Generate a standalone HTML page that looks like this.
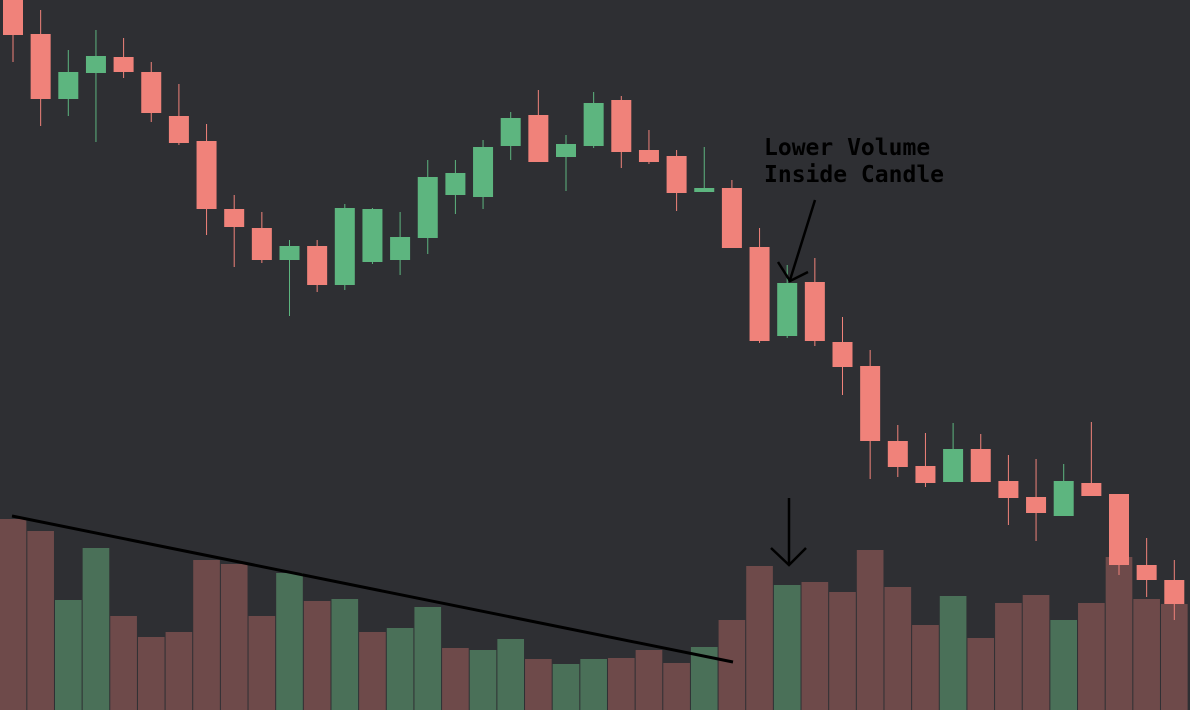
<!DOCTYPE html>
<html><head><meta charset="utf-8"><style>
html,body{margin:0;padding:0;background:#2e2f33;}
svg{display:block;}
</style></head><body>
<svg id="chart" width="1190" height="710" viewBox="0 0 1190 710" xmlns="http://www.w3.org/2000/svg">
<rect x="0" y="0" width="1190" height="710" fill="#2e2f33"/>
<g id="vol"></g>
<g id="candles"></g>
<line x1="12" y1="516" x2="733" y2="662" stroke="#000" stroke-width="3"/>
<text font-family="'DejaVu Sans Mono','Liberation Mono',monospace" font-size="23" font-weight="bold" fill="#000"><tspan x="764" y="155">Lower Volume</tspan><tspan x="764" y="182">Inside Candle</tspan></text>
<g stroke="#000" stroke-width="2.5" fill="none">
<line x1="815" y1="200" x2="790" y2="280"/><polyline points="778,262 790,281 808,272"/>
</g>
<g stroke="#000" stroke-width="2.5" fill="none">
<line x1="789" y1="498" x2="789" y2="565"/><polyline points="771,548 789,565 806,548"/>
</g>
</svg>
<script>
// price values (axis units: value = 710 - pixel y)
const opens  = [710,676,611,637,653,638,594,569,501,482,450,464,425,448,450,472,515,513,564,595,553,564,610,560,554,518,522,463,374,428,368,344,269,244,228,261,229,213,194,227,216,145,130];
const closes = [675,611,638,654,638,597,567,501,483,450,464,425,502,501,473,533,537,563,592,548,566,607,558,548,517,522,462,369,427,369,343,269,243,227,261,228,212,197,229,214,145,130,106];
const highs  = [715,700,660,680,672,648,626,586,515,498,470,470,506,502,498,550,550,570,598,620,575,618,614,580,560,563,530,482,445,452,393,360,285,277,287,276,255,251,246,288,216,172,150];
const lows   = [648,584,594,568,632,588,565,475,443,447,394,418,420,446,435,456,496,501,550,548,519,562,542,546,499,518,462,367,372,364,315,231,233,223,228,228,185,169,194,214,135,113,90];
const volumes= [191,179,110,162,94,73,78,150,146,94,137,109,111,78,82,103,62,60,71,51,46,51,52,60,47,63,90,144,125,128,118,160,123,85,114,72,107,115,90,107,153,111,106];
const volUp  = [0,0,1,1,0,0,0,0,0,0,1,0,1,0,1,1,0,1,1,0,1,1,0,0,0,1,0,0,1,0,0,0,0,0,1,0,0,0,1,0,0,0,0];

const step = 27.65;
function xCenter(i){ return 13 + i*step; }
function yScale(v){ return 710 - v; }
const NS = "http://www.w3.org/2000/svg";
const volG = document.getElementById('vol');
const cG = document.getElementById('candles');

volumes.forEach((v,i)=>{
  const r = document.createElementNS(NS,'rect');
  
  
  const x0 = xCenter(i) - step/2;
  r.setAttribute('x', x0 + 0.5);
  r.setAttribute('width', step - 1);
  r.setAttribute('y', yScale(v));
  r.setAttribute('height', v);
  r.setAttribute('fill', volUp[i] ? '#4a7058' : '#6e4a4a');
  volG.appendChild(r);
});

opens.forEach((o,i)=>{
  const c = closes[i];
  const up = c > o;
  const col = up ? '#5db57f' : '#f0827a';
  const xc = xCenter(i);
  const w = document.createElementNS(NS,'line');
  
  
  w.setAttribute('x1', xc); w.setAttribute('x2', xc);
  w.setAttribute('y1', yScale(highs[i])); w.setAttribute('y2', yScale(lows[i]));
  w.setAttribute('stroke', col); w.setAttribute('stroke-width', 1);
  cG.appendChild(w);
  const b = document.createElementNS(NS,'rect');
  
  
  const top = yScale(Math.max(o,c));
  b.setAttribute('x', xc - 10);
  b.setAttribute('width', 20);
  b.setAttribute('y', top);
  b.setAttribute('height', Math.max(3, Math.abs(c-o)));
  b.setAttribute('fill', col);
  cG.appendChild(b);
});
</script>
</body></html>
